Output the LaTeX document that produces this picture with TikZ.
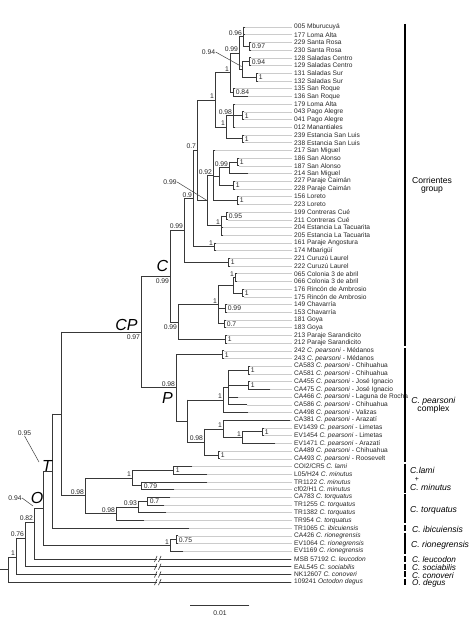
\documentclass[tikz,border=0pt]{standalone}
\usepackage{fontspec}
\setmainfont{Liberation Sans}
\usetikzlibrary{calc}
\newcommand\mkclade[5]{%
  \coordinate (tmp) at ($(#3)!0.5!(#4)$);
  \coordinate (xref) at (#2,0);
  \coordinate (#1) at (xref |- tmp);
  \draw[br] (#1 |- #3) -- (#1 |- #4);
  \foreach \c in {#5}{\draw[br] (#1 |- \c) -- (\c);}%
}
\newcommand\mkcladeAt[6]{%
  \coordinate (#1) at (#2,#3);
  \draw[br] (#1 |- #4) -- (#1 |- #5);
  \foreach \c in {#6}{\draw[br] (#1 |- \c) -- (\c);}%
}
\begin{document}
\begin{tikzpicture}[x=1pt,y=-1pt,
  br/.style={draw=black!78,line width=0.75pt,line cap=rect},
  ext/.style={draw=black!20,line width=0.5pt},
  leaf/.style={anchor=west,inner sep=0pt,font=\fontsize{6.6}{7}\selectfont,text=black!85},
  sup/.style={inner sep=0.3pt,font=\fontsize{6.8}{7}\selectfont,text=black!85},
  supl/.style={sup,anchor=south east,xshift=-0.5pt,yshift=0.8pt},
  supr/.style={sup,anchor=west,xshift=2.3pt},
  supb/.style={sup,anchor=north east,xshift=-0.5pt,yshift=-2pt},
  cladelbl/.style={inner sep=0pt,font=\fontsize{16}{16}\selectfont\itshape},
  grp/.style={inner sep=0pt,font=\fontsize{8.6}{8.2}\selectfont,align=center},
  grpl/.style={inner sep=0pt,anchor=west,font=\fontsize{8.6}{9}\selectfont\itshape},
  grps/.style={inner sep=0pt,anchor=west,font=\fontsize{8.2}{8.5}\selectfont\itshape},
  bar/.style={line width=2pt,draw=black},
  lead/.style={draw=black!75,line width=0.5pt},
  brk/.style={draw=black!80,line width=0.6pt}
]
\useasboundingbox (0,0) rectangle (474,631);
% leaves
\foreach \k/\ex/\txt in {
1/245/{005 Mburucuyá},
2/245/{177 Loma Alta},
3/251/{229 Santa Rosa},
4/251/{230 Santa Rosa},
5/251/{128 Saladas Centro},
6/251/{129 Saladas Centro},
7/258/{131 Saladas Sur},
8/258/{132 Saladas Sur},
9/235/{135 San Roque},
10/248/{136 San Roque},
11/235/{179 Loma Alta},
12/244/{043 Pago Alegre},
13/244/{041 Pago Alegre},
14/235/{012 Manantiales},
15/244/{239 Estancia San Luis},
16/244/{238 Estancia San Luis},
17/215/{217 San Miguel},
18/239/{186 San Alonso},
19/239/{187 San Alonso},
20/248/{214 San Miguel},
21/235/{227 Paraje Caimán},
22/235/{228 Paraje Caimán},
23/239/{156 Loreto},
24/239/{223 Loreto},
25/228/{199 Contreras Cué},
26/228/{211 Contreras Cué},
27/223/{204 Estancia La Tacuarita},
28/223/{205 Estancia La Tacuarita},
29/216/{161 Paraje Angostura},
30/216/{174 Mbarigüí},
31/230/{221 Curuzú Laurel},
32/230/{222 Curuzú Laurel},
33/237/{065 Colonia 3 de abril},
34/237/{066 Colonia 3 de abril},
35/244/{176 Rincón de Ambrosio},
36/244/{175 Rincón de Ambrosio},
37/227/{149 Chavarría},
38/227/{153 Chavarría},
39/226/{181 Goya},
40/226/{183 Goya},
41/227/{213 Paraje Sarandicito},
42/227/{212 Paraje Sarandicito},
43/224/{242 \textit{C. pearsoni} - Médanos},
44/224/{243 \textit{C. pearsoni} - Médanos},
45/250/{CA583 \textit{C. pearsoni} - Chihuahua},
46/250/{CA581 \textit{C. pearsoni} - Chihuahua},
47/250/{CA455 \textit{C. pearsoni} - José Ignacio},
48/270/{CA475 \textit{C. pearsoni} - José Ignacio},
49/238/{CA466 \textit{C. pearsoni} - Laguna de Rocha},
50/247/{CA586 \textit{C. pearsoni} - Chihuahua},
51/248/{CA498 \textit{C. pearsoni} - Valizas},
52/290/{CA381 \textit{C. pearsoni} - Arazatí},
53/264/{EV1439 \textit{C. pearsoni} - Limetas},
54/264/{EV1454 \textit{C. pearsoni} - Limetas},
55/275/{EV1471 \textit{C. pearsoni} - Arazatí},
56/220/{CA489 \textit{C. pearsoni} - Chihuahua},
57/220/{CA493 \textit{C. pearsoni} - Roosevelt},
58/192/{COI2/CR5 \textit{C. lami}},
59/207/{L05/H24 \textit{C. minutus}},
60/207/{TR1122 \textit{C. minutus}},
61/174/{cf02/H1 \textit{C. minutus}},
62/170/{CA783 \textit{C. torquatus}},
63/164/{TR1255 \textit{C. torquatus}},
64/166/{TR1382 \textit{C. torquatus}},
65/144/{TR954 \textit{C. torquatus}},
66/189/{TR1065 \textit{C. ibicuiensis}},
67/178/{CA426 \textit{C. rionegrensis}},
68/178/{EV1064 \textit{C. rionegrensis}},
69/183/{EV1169 \textit{C. rionegrensis}},
70/291/{MSB 57192 \textit{C. leucodon}},
71/291/{EAL545 \textit{C. sociabilis}},
72/291/{NK12607 \textit{C. conoveri}},
73/291/{109241 \textit{Octodon degus}}}{
  \coordinate (L\k) at (\ex,{27+(\k-1)*7.71});
  \node[leaf] (t\k) at (294,{27+(\k-1)*7.71}) {\txt};
  \draw[ext] (L\k) -- ([xshift=-2pt]t\k.west);
}
% Corrientes clade
\mkclade{N2}{249}{L3}{L4}{L3,L4}
\mkclade{N1}{243}{L1}{N2}{L1,L2,N2}
\mkclade{N4}{249}{L5}{L6}{L5,L6}
\mkclade{N5}{256}{L7}{L8}{L7,L8}
\mkclade{N3}{242}{N4}{N5}{N4,N5}
\mkclade{N6}{239}{N1}{N3}{N1,N3}
\mkclade{N8}{233}{L9}{L10}{L9,L10}
\mkclade{N7}{230}{N6}{N8}{N6,N8}
\mkclade{N10}{242}{L12}{L13}{L12,L13}
\mkclade{N9}{233}{L11}{L14}{L11,N10,L14}
\mkclade{N12}{242}{L15}{L16}{L15,L16}
\mkclade{N11}{226}{N9}{N12}{N9,N12}
\mkclade{N13}{215}{N7}{N11}{N7,N11}
\mkclade{H1}{237}{L18}{L19}{L18,L19}
\mkclade{H2}{229}{H1}{L20}{H1,L20}
\mkclade{H4}{233}{L21}{L22}{L21,L22}
\mkclade{H3}{219}{H2}{H4}{H2,H4}
\mkclade{H6}{237}{L23}{L24}{L23,L24}
\mkclade{H5}{213}{L17}{H6}{L17,H3,H6}
\mkclade{H9}{226}{L25}{L26}{L25,L26}
\mkclade{H8}{221}{H9}{L28}{H9,L27,L28}
\mkclade{H7}{207}{H5}{H8}{H5,H8}
\mkclade{Na}{197}{N13}{H7}{N13,H7}
\mkclade{B29}{214}{L29}{L30}{L29,L30}
\mkclade{Nb}{193}{Na}{B29}{Na,B29}
\mkclade{B31}{228}{L31}{L32}{L31,L32}
\mkclade{N15}{184}{Nb}{B31}{Nb,B31}
\mkclade{G1}{235}{L33}{L34}{L33,L34}
\mkclade{G2}{242}{L35}{L36}{L35,L36}
\mkclade{G3}{233}{G1}{G2}{G1,G2}
\mkclade{G4}{225}{L37}{L38}{L37,L38}
\mkclade{G5}{224}{L39}{L40}{L39,L40}
\mkclade{G6}{218}{G3}{G5}{G3,G4,G5}
\mkclade{G7}{225}{L41}{L42}{L41,L42}
\mkclade{G8}{178}{G6}{G7}{G6,G7}
\mkclade{C}{170}{N15}{G8}{N15,G8}
% pearsoni clade
\mkclade{B43}{222}{L43}{L44}{L43,L44}
\mkclade{B45}{248}{L45}{L46}{L45,L46}
\mkclade{B47}{248}{L47}{L48}{L47,L48}
\mkclade{R}{228}{B45}{L50}{B45,B47,L49,L50}
\mkclade{U}{223}{R}{L51}{R,L51}
\mkclade{T1}{262}{L53}{L54}{L53,L54}
\mkclade{T2}{242}{T1}{L55}{T1,L55}
\mkclade{T3}{223}{L52}{T2}{L52,T2}
\mkclade{B56}{218}{L56}{L57}{L56,L57}
\mkclade{T4}{204}{T3}{B56}{T3,B56}
\mkclade{Q}{187}{U}{T4}{U,T4}
\mkclade{P}{176}{B43}{Q}{B43,Q}
\mkclade{CP}{141}{C}{P}{C,P}
% lami, minutus, torquatus
\mkclade{B58}{173}{L58}{L59}{L58,L59}
\mkclade{X60}{141}{L60}{L61}{L60,L61}
\mkclade{M1}{132}{B58}{X60}{B58,X60}
\mkclade{B62}{147}{L62}{L63}{L62,L63}
\mkclade{Tq2}{138}{B62}{L64}{B62,L64}
\mkclade{Tq}{116}{Tq2}{L65}{Tq2,L65}
\mkclade{M2}{85}{M1}{Tq}{M1,Tq}
\mkclade{V1}{61}{CP}{M2}{CP,M2}
\mkclade{T}{52}{V1}{L66}{V1,L66}
\mkclade{R2}{176}{L67}{L68}{L67,L68}
\mkclade{R1}{170}{R2}{L69}{R2,L69}
\mkclade{O}{43}{T}{R1}{T,R1}
\mkcladeAt{N82}{34}{522}{O}{L70}{O,L70}
\mkcladeAt{N76}{25}{538}{N82}{L71}{N82,L71}
\mkcladeAt{N1r}{16}{557}{N76}{L72}{N76,L72}
\mkcladeAt{root}{8}{569.5}{N1r}{L73}{N1r,L73}
\coordinate (rootstub) at (0,569.5);
\draw[br] (rootstub) -- (root);
% breaks on outgroup branches
\foreach \k in {70,71,72,73}{
  \fill[white] ($(t\k.west)+(-137.5,1)$) rectangle ++(3,-2);
  \draw[brk] ($(t\k.west)+(-139.5,3)$) -- ++(2.5,-6);
  \draw[brk] ($(t\k.west)+(-135.5,3)$) -- ++(2.5,-6);
}
% support values, left of nodes
\foreach \n/\v in {N1/0.96,N6/0.99,N7/1,N9/0.98,N11/1,N13/1,Na/0.7,Nb/0.9,N15/0.99,
  H2/0.99,H5/0.92,H8/1,B29/1,G1/1,G6/1,P/0.98,U/1,T3/1,T2/1,T4/0.98,M1/1,M2/0.98,
  Tq/0.98,Tq2/0.93,R1/1,N82/0.82,N76/0.76,N1r/1}{
  \node[supl] (s\n) at (\n) {\v};
}
% support values, right of brackets
\foreach \n/\v in {N2/0.97,N4/0.94,N5/1,N8/0.84,N10/1,N12/1,H1/1,H4/1,H6/1,H9/0.95,
  B31/1,G2/1,G4/0.99,G5/0.7,G7/1,B43/1,B45/1,B47/1,T1/1,B56/1,B58/1,X60/0.79,B62/0.7,R2/0.75}{
  \node[supr] (s\n) at (\n) {\v};
}
% support values below branches
\foreach \n/\v in {C/0.99,CP/0.97,G8/0.99}{
  \node[supb] (s\n) at (\n) {\v};
}
% support values with leader lines
\node[sup] (sN3) at (208.5,52) {0.94};
\coordinate (N3lead) at (241.5,66.5);
\draw[lead] (sN3.east) -- (N3lead);
\node[sup] (sH7) at (170,182) {0.99};
\draw[lead] (sH7.east) -- (H7);
\node[sup] (sT) at (24.5,433) {0.95};
\coordinate (Tlead) at (39,462);
\draw[lead] (sT.south) -- (Tlead);
\node[sup] (sO) at (15,498) {0.94};
\coordinate (Olead) at (33,506);
\draw[lead] (sO.east) -- (Olead);
% clade letters
\node[cladelbl] (lC) at (162.5,266) {C};
\node[cladelbl] (lCP) at (126.5,325) {CP};
\node[cladelbl] (lP) at (167.5,397.5) {P};
\node[cladelbl] (lT) at (47,466) {T};
\node[cladelbl] (lO) at (37,498) {O};
% group bars
\draw[bar] (405,24) -- (405,346);
\draw[bar] (405,348) -- (405,461.6);
\draw[bar] (405,463.5) -- (405,492.6);
\draw[bar] (405,494.3) -- (405,523.4);
\draw[bar] (405,525.1) -- (405,531.1);
\draw[bar] (405,532.8) -- (405,554.3);
\draw[bar] (405,556) -- (405,562);
\draw[bar] (405,563.7) -- (405,569.7);
\draw[bar] (405,571.4) -- (405,577.4);
\draw[bar] (405,579.1) -- (405,585.1);
% group labels
\node[grp] (gCor) at (432,185) {Corrientes\\group};
\node[grp] (gPea) at (433.5,405) {\textit{C. pearsoni}\\complex};
\node[grpl] (gLam) at (410,470.5) {C.lami};
\node[inner sep=0pt,font=\fontsize{7}{7}\selectfont] (gPlus) at (417,479.5) {+};
\node[grpl] (gMin) at (410,487) {C. minutus};
\node[grpl] (gTor) at (410,510) {C. torquatus};
\node[grpl] (gIbi) at (412,529) {C. ibicuiensis};
\node[grpl] (gRio) at (411,545) {C. rionegrensis};
\node[grps] (gLeu) at (412,560) {C. leucodon};
\node[grps] (gSoc) at (412,567.8) {C. sociabilis};
\node[grps] (gCon) at (412,575.6) {C. conoveri};
\node[grps] (gDeg) at (412,583.4) {O. degus};
% scale bar
\coordinate (sb1) at (190,605);
\coordinate (sb2) at (249,605);
\draw[br] (sb1) -- (sb2);
\node[sup] (sbl) at (220,613) {0.01};
\end{tikzpicture}
\end{document}
